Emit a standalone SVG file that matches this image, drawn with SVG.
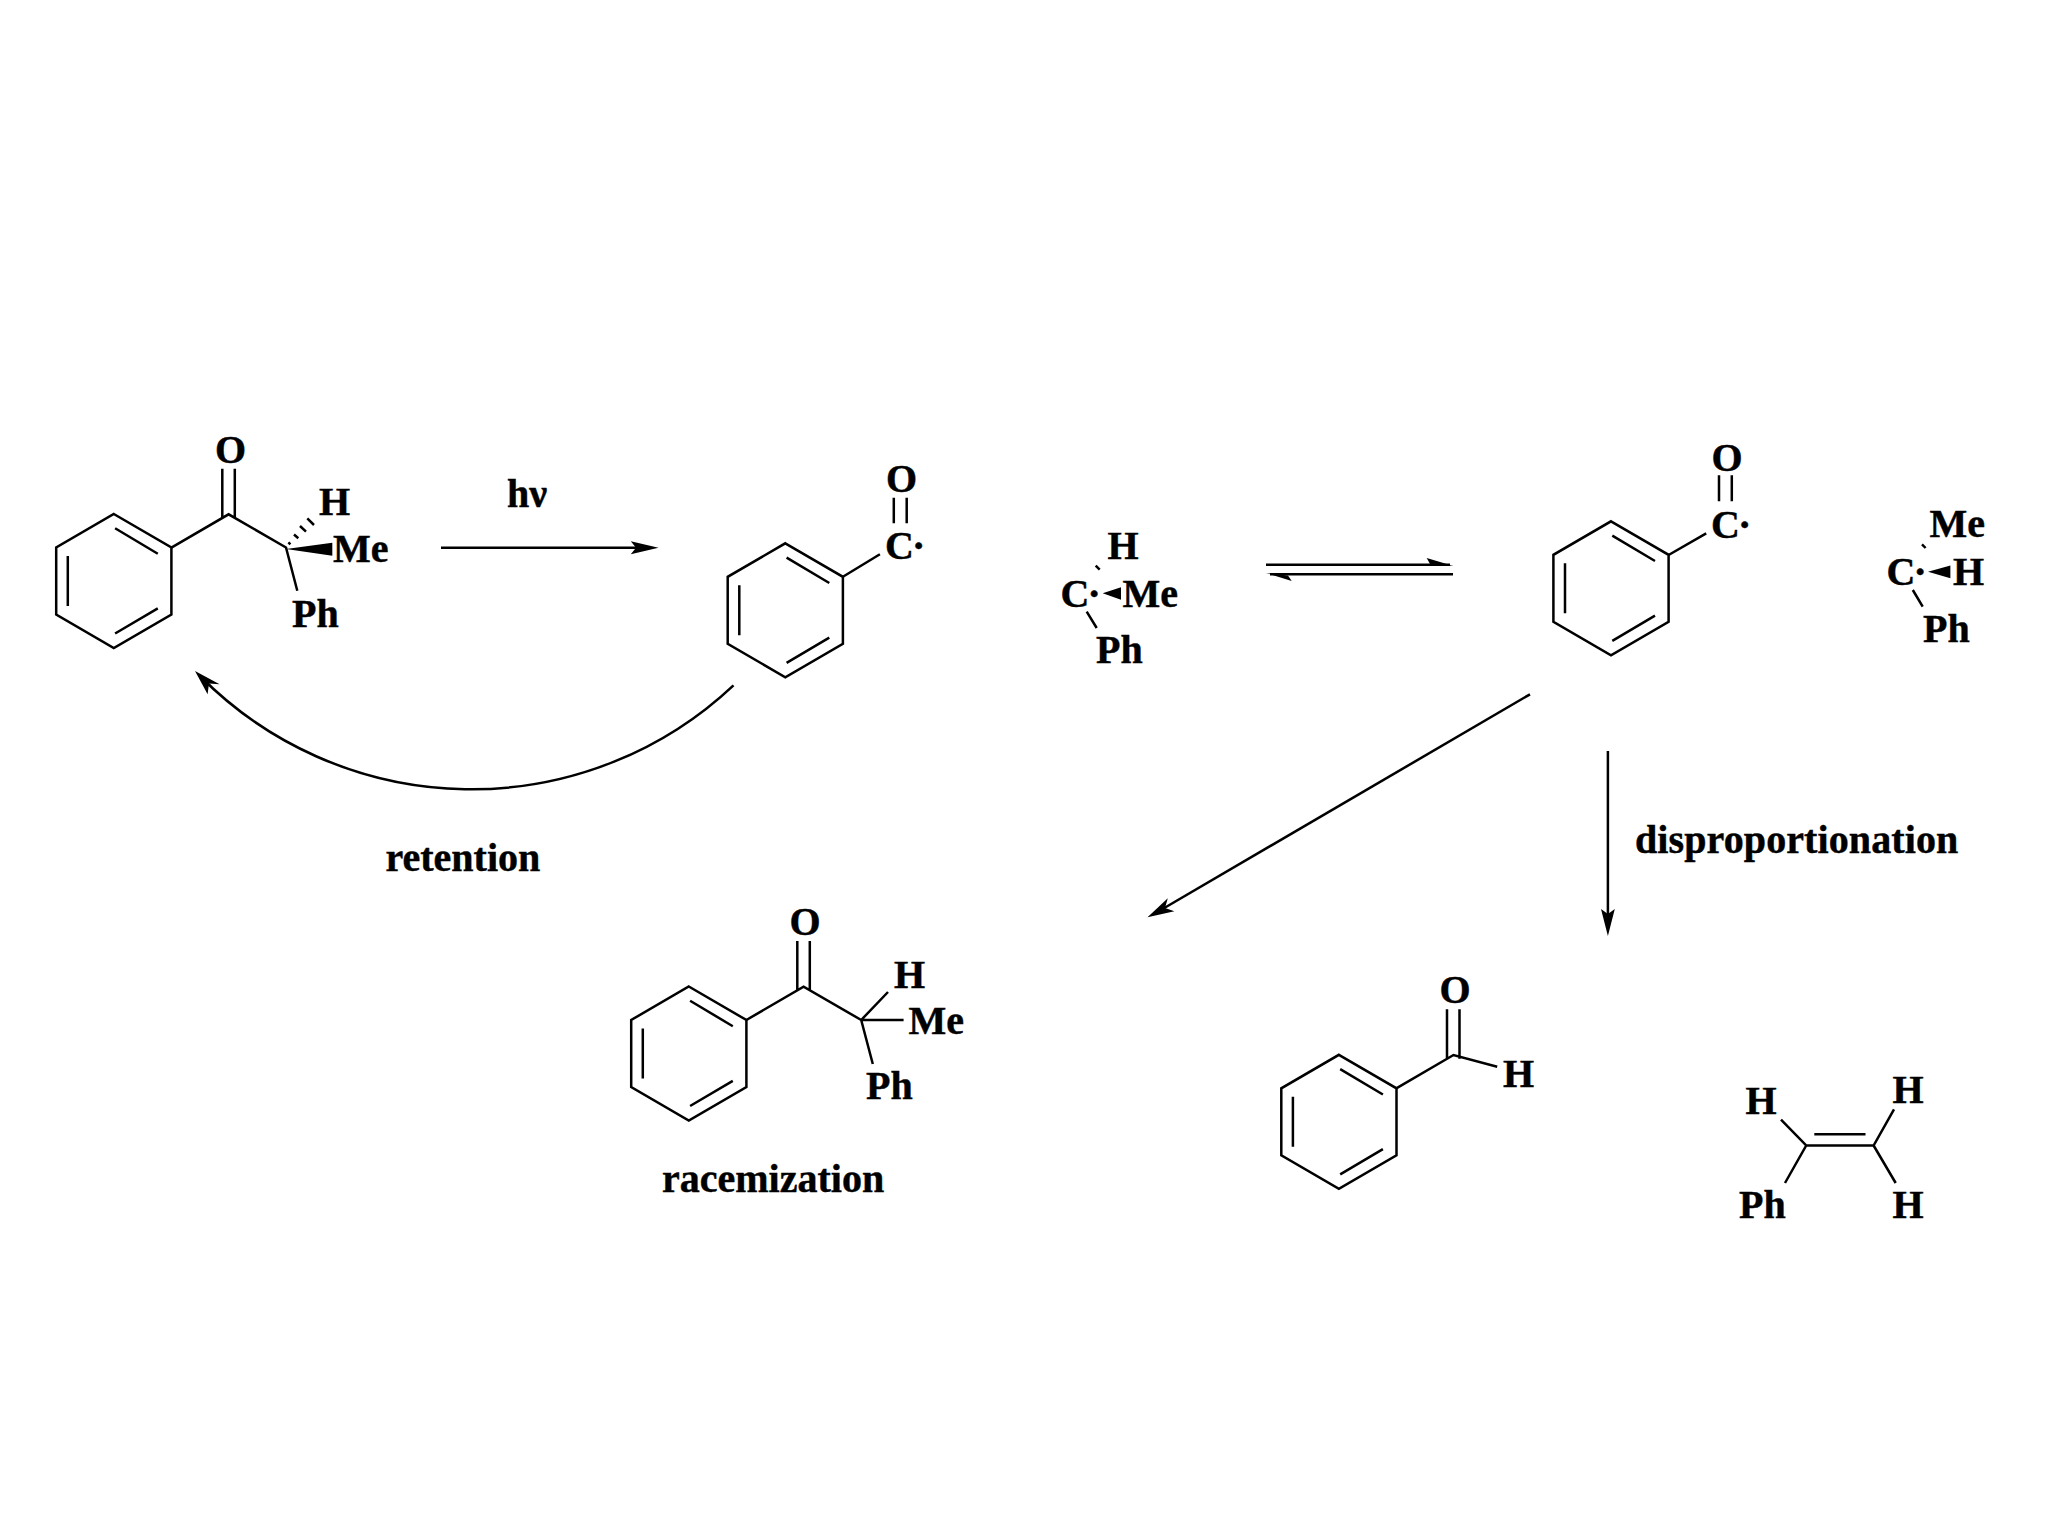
<svg xmlns="http://www.w3.org/2000/svg" width="2048" height="1536" viewBox="0 0 2048 1536">
<style>
text{font-family:"Liberation Serif","Times New Roman",serif;font-weight:bold;font-size:40px;fill:#000;stroke:#000;stroke-width:.45}
.b{fill:none;stroke:#000;stroke-width:2.5;stroke-linecap:butt;stroke-linejoin:miter}
.h{fill:#000;stroke:none}
</style>
<defs>
<g id="ring" class="b">
<path d="M0,-67L57.6,-33.5V33.5L0,67L-57.6,33.5V-33.5Z"/>
<path d="M1.3,-52.7L44,-27.3M44,27.3L1.3,52.5M-46,-25V25"/>
</g>
</defs>
<g transform="translate(0,1)">
<g id="connectors">
<g id="arrow-hv"><path class="b" d="M441,546.7H640"/><path class="h" d="M658.5,546.7L630.8,540.3L636,546.7L630.8,553.3Z"/></g>
<g id="arrow-retention"><path class="b" d="M733.5,684.3A382,382 0 0 1 200,675"/><path class="h" d="M195,670L219.6,683.3L209,682.5L207.6,693.3Z"/></g>
<g id="arrow-equilibrium"><path class="b" d="M1266,563.7H1450M1270,573.3H1453"/><path class="h" d="M1453.5,565L1426.7,557L1430,563Z"/><path class="h" d="M1266,572L1291.7,580L1288,574.5Z"/></g>
<g id="arrow-racemization"><path class="b" d="M1530,693.3L1160,909.5"/><path class="h" d="M1147.5,916.3L1167.8,897.3L1165,907L1174.4,910.3Z"/></g>
<g id="arrow-disproportionation"><path class="b" d="M1607.9,750V915"/><path class="h" d="M1607.9,935L1601,908L1607.9,913L1614.8,908Z"/></g>
</g>
<g id="mol-ketone">
<use href="#ring" x="113.8" y="580"/>
<path class="b" d="M171.4,546.7L228.6,513.3L286,546.5L297.3,589.7M222.3,467.7V517M234.8,467.7V517"/>
<path class="b" d="M288.4,541.4L290.4,543.4M294,533.5L298.3,537.3M300,525L306,530.7M307.3,517.3L314,524"/>
<path class="h" d="M286,548L332.3,541.8V554.8Z"/>
<text x="215" y="462">O</text><text x="319" y="514.3">H</text><text x="333" y="560.5">Me</text><text x="292" y="625.7">Ph</text>
</g>
<g id="label-hv"><text x="507" y="506">hν</text></g>
<g id="label-retention"><text x="385.5" y="869.5">retention</text></g>
<g id="mol-benzoyl-1">
<use href="#ring" x="785.3" y="609.3"/>
<path class="b" d="M842.9,575.7L879.9,553.3M893.8,496.7V522.3M906.7,496.7V522.3"/>
<text x="886" y="491.3">O</text><text x="885" y="558.3">C<tspan dx="-2">·</tspan></text>
</g>
<g id="mol-radical-1">
<path class="b" d="M1095.7,564.7L1099.7,568.7M1086.7,610.7L1096.7,627"/>
<path class="h" d="M1102.7,592.3L1121,586.3V598.8Z"/>
<text x="1107.5" y="557.5">H</text><text x="1060.5" y="605.8">C<tspan dx="-2">·</tspan></text><text x="1122.5" y="605.7">Me</text><text x="1096" y="662">Ph</text>
</g>
<g id="mol-benzoyl-2">
<use href="#ring" x="1611" y="587.3"/>
<path class="b" d="M1668.6,554L1706.2,532.3M1719,474.3V500.3M1731.8,474.3V500.3"/>
<text x="1711.5" y="469.7">O</text><text x="1711" y="536.7">C<tspan dx="-2">·</tspan></text>
</g>
<g id="mol-radical-2">
<path class="b" d="M1922,543.3L1925.6,547M1912.8,589L1922.7,605.7"/>
<path class="h" d="M1928,570.7L1950.4,564.5V577.2Z"/>
<text x="1929.5" y="535.7">Me</text><text x="1886.5" y="584.3">C<tspan dx="-2">·</tspan></text><text x="1953" y="584.3">H</text><text x="1923" y="640.7">Ph</text>
</g>
<g id="label-disproportionation"><text x="1635" y="851.7" letter-spacing=".1">disproportionation</text></g>
<g id="mol-racemate">
<use href="#ring" x="688.8" y="1052.5"/>
<path class="b" d="M746.4,1019L803.6,985.7L861.2,1019L888,991M861.2,1019H903.6M861.2,1019L872.8,1063M797.3,940V989M809.8,940V989"/>
<text x="789.5" y="934">O</text><text x="894" y="986.7">H</text><text x="908.5" y="1033.3">Me</text><text x="866" y="1098">Ph</text>
</g>
<g id="label-racemization"><text x="662" y="1191">racemization</text></g>
<g id="mol-benzaldehyde">
<use href="#ring" x="1338.9" y="1120.8"/>
<path class="b" d="M1396.7,1087.2L1453.5,1054L1497.2,1065.7M1447,1008.3V1057.7M1459.5,1008.3V1057.7"/>
<text x="1439.5" y="1001.8">O</text><text x="1503" y="1085.8">H</text>
</g>
<g id="mol-styrene">
<path class="b" d="M1781,1118.7L1806.2,1144.5L1785,1182M1806.2,1144.5H1873.6L1894,1108.3M1873.6,1144.5L1895.7,1182M1814.3,1133.3H1865.5"/>
<text x="1745.5" y="1112.5">H</text><text x="1892.5" y="1101.8">H</text><text x="1739" y="1216.8">Ph</text><text x="1892.5" y="1216.8">H</text>
</g>
</g>
</svg>
